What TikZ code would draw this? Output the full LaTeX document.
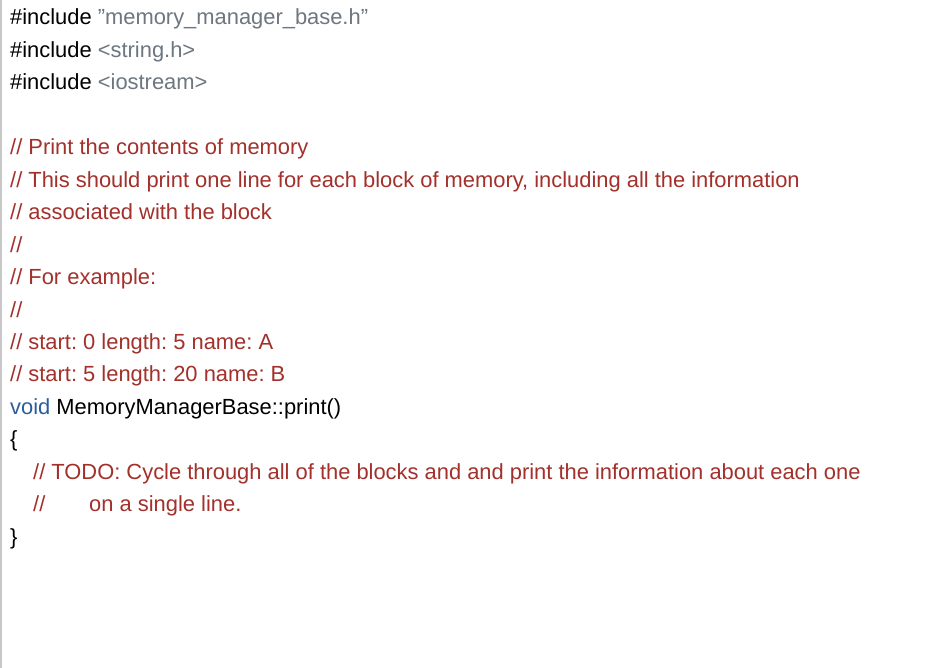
\documentclass[tikz,border=0pt]{standalone}
\usepackage{fontspec}
\setmainfont{Liberation Sans}
\definecolor{cmt}{HTML}{A3302B}
\definecolor{str}{HTML}{6E7680}
\definecolor{kw}{HTML}{2C5C9E}
\frenchspacing
\begin{document}
\begin{tikzpicture}[x=1pt,y=-1pt,
  code/.style={anchor=base west,inner sep=0pt,font=\fontsize{21.9}{26}\selectfont}]
\useasboundingbox (0,0) rectangle (938,668);
\fill[white] (0,0) rectangle (938,668);
\fill[black!22] (0,0) rectangle (2,668);
\def\L#1{25+32.45*#1}
\node[code] (l0) at (10,{\L0}) {\#include \textcolor{str}{\symbol{34}memory\_manager\_base.h\symbol{34}}};
\node[code] (l1) at (10,{\L1}) {\#include \textcolor{str}{<string.h>}};
\node[code] (l2) at (10,{\L2}) {\#include \textcolor{str}{<iostream>}};
\node[code,text=cmt] (l4) at (10,{\L4}) {// Print the contents of memory};
\node[code,text=cmt] (l5) at (10,{\L5}) {// This should print one line for each block of memory, including all the information};
\node[code,text=cmt] (l6) at (10,{\L6}) {// associated with the block};
\node[code,text=cmt] (l7) at (10,{\L7}) {//};
\node[code,text=cmt] (l8) at (10,{\L8}) {// For example:};
\node[code,text=cmt] (l9) at (10,{\L9}) {//};
\node[code,text=cmt] (l10) at (10,{\L{10}}) {// start: 0 length: 5 name: A};
\node[code,text=cmt] (l11) at (10,{\L{11}}) {// start: 5 length: 20 name: B};
\node[code] (l12) at (10,{\L{12}}) {\textcolor{kw}{void} MemoryManagerBase::print()};
\node[code] (l13) at (10,{\L{13}}) {\{};
\node[code,text=cmt] (l14) at (33,{\L{14}}) {// TODO: Cycle through all of the blocks and and print the information about each one};
\node[code,text=cmt] (l15) at (33,{\L{15}}) {//};
\node[code,text=cmt] (l15b) at (89,{\L{15}}) {on a single line.};
\node[code] (l16) at (10,{\L{16}}) {\}};
\end{tikzpicture}
\end{document}
